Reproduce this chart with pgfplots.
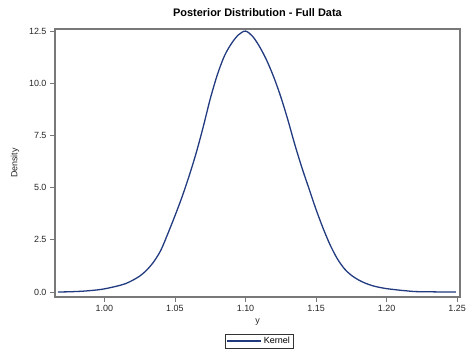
\documentclass[border=0pt]{standalone}
\usepackage{pgfplots}
\pgfplotsset{compat=1.18}
\usepackage{fontspec}
\setmainfont{Liberation Sans}
\definecolor{kernel}{RGB}{33,58,128}
\definecolor{axgray}{RGB}{120,120,120}
\begin{document}
\begin{tikzpicture}
\useasboundingbox (-55bp,-58bp) rectangle (419bp,297bp);
\begin{axis}[
  at={(0,0)}, anchor=south west,
  scale only axis, width=405bp, height=268bp,
  xmin=0.965, xmax=1.252, ymin=-0.24, ymax=12.6,
  xtick={1.00,1.05,...,1.25}, ytick={0,2.5,5,7.5,10,12.5},
  xticklabel style={/pgf/number format/.cd,fixed,fixed zerofill,precision=2},
  yticklabel style={/pgf/number format/.cd,fixed,fixed zerofill,precision=1},
  /pgf/number format/assume math mode=true,
  ticklabel style={font=\fontsize{9}{10}\selectfont, text=black!85},
  tick align=outside, tick pos=left,
  major tick length=5bp,
  every tick/.style={axgray, line width=0.8pt},
  axis line style={axgray, line width=1.3pt},
  title={\textbf{Posterior Distribution - Full Data}},
  title style={font=\fontsize{11}{13}\selectfont, at={(0.5,1)}, anchor=south, yshift=3bp},
  xlabel={y}, ylabel={Density},
  label style={font=\fontsize{9}{10}\selectfont, text=black!85},
  xlabel style={yshift=0bp},
  ylabel style={yshift=3bp},
  legend style={at={(0.504,-0.138)}, anchor=north, draw=black!80, font=\fontsize{9}{10}\selectfont, inner sep=1pt, row sep=0pt},
  legend cell align=left,
]
\addplot[draw=kernel, line width=1.3pt, smooth, tension=0.5,
  legend image code/.code={\pgfsetlinewidth{1.6pt}\draw[draw=kernel, line width=1.6pt] (0bp,0bp) -- (34bp,0bp);}] coordinates {
(0.967,0.00) (0.975,0.01) (0.985,0.04) (0.995,0.10) (1.000,0.15) (1.005,0.22)
(1.010,0.30) (1.015,0.40) (1.020,0.56) (1.025,0.76) (1.030,1.05) (1.035,1.45)
(1.040,2.00) (1.045,2.80) (1.050,3.65) (1.055,4.55) (1.060,5.55) (1.065,6.65)
(1.070,7.90) (1.075,9.25) (1.080,10.40) (1.085,11.30) (1.090,11.90) (1.095,12.32)
(1.100,12.50) (1.105,12.25) (1.110,11.75) (1.115,11.10) (1.120,10.30) (1.125,9.35)
(1.130,8.25) (1.135,7.05) (1.140,5.95) (1.145,4.95) (1.150,3.95) (1.155,3.05)
(1.160,2.25) (1.165,1.60) (1.170,1.12) (1.175,0.80) (1.180,0.58) (1.185,0.42)
(1.190,0.30) (1.195,0.22) (1.200,0.16) (1.205,0.12) (1.210,0.08) (1.215,0.05)
(1.220,0.02) (1.230,0.01) (1.240,0.00) (1.249,0.00)
};
\addlegendentry{Kernel}
\end{axis}
\end{tikzpicture}
\end{document}
